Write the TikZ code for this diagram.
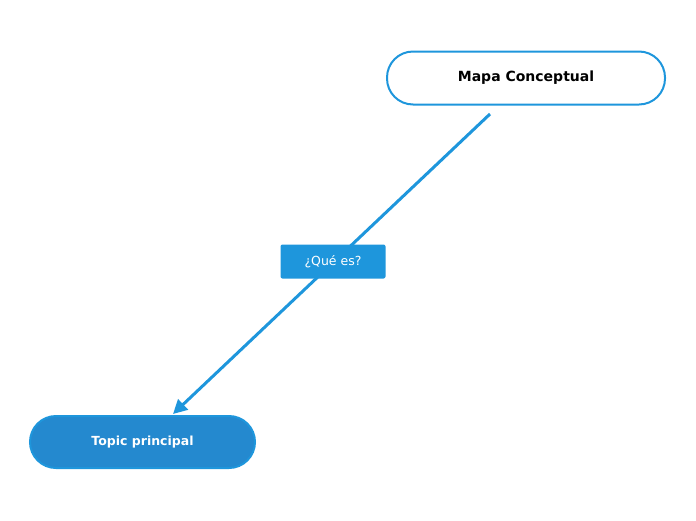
\documentclass[tikz,border=0pt]{standalone}
\usepackage{fontspec}
\setmainfont{DejaVu Sans}
\usetikzlibrary{arrows.meta}
\definecolor{lblue}{HTML}{1E96DC}
\definecolor{dblue}{HTML}{2489CF}
\tikzset{
  topicbox/.style={rounded corners=26pt, line width=2pt, minimum height=53pt, font=\bfseries},
  lbl/.style={fill=lblue, text=white, rounded corners=2pt, minimum width=105pt, minimum height=34pt, font=\fontsize{12.5}{14}\selectfont},
  conn/.style={lblue, line width=3pt, -{Triangle[length=14pt,width=14pt]}}
}
\begin{document}
\begin{tikzpicture}[x=1pt,y=-1pt]
\useasboundingbox (0,0) rectangle (696,520);
\node[topicbox, draw=lblue, fill=white, minimum width=278pt, font=\bfseries\fontsize{14}{16}\selectfont] (m) at (526,78) {Mapa Conceptual};
\node[topicbox, draw=lblue, fill=dblue, text=white, minimum width=225pt, minimum height=52pt, font=\bfseries\fontsize{12.5}{14}\selectfont] (t) at (142.5,442) {Topic principal};
\coordinate (a) at (490,114);
\coordinate (b) at (173,414);
\draw[conn] (a) -- (b);
\node[lbl] (q) at (333,261.5) {¿Qué es?};
\end{tikzpicture}
\end{document}
